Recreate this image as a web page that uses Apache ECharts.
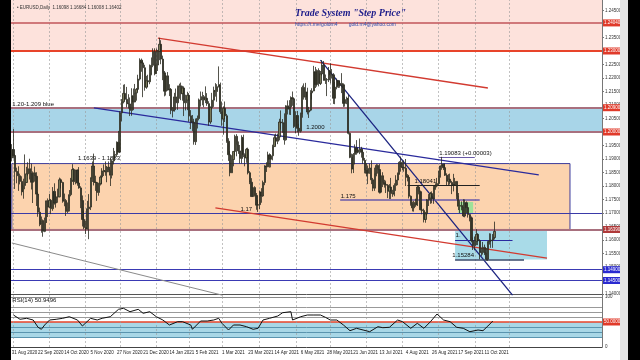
<!DOCTYPE html>
<html><head><meta charset="utf-8">
<script src="https://cdn.jsdelivr.net/npm/echarts@6/dist/echarts.min.js"></script>
<style>html,body{margin:0;padding:0;background:#fff}#c{width:640px;height:360px}</style>
</head><body><div id="c"></div>
<script>
// ---- x axis tick labels (every 16 daily bars) ----
const tickLabels = ["31 Aug 2020","22 Sep 2020","14 Oct 2020","5 Nov 2020","27 Nov 2020","21 Dec 2020","14 Jan 2021","5 Feb 2021","1 Mar 2021","23 Mar 2021","14 Apr 2021","6 May 2021","28 May 2021","21 Jun 2021","13 Jul 2021","4 Aug 2021","26 Aug 2021","17 Sep 2021","11 Oct 2021"];
// month-start bar indexes (dotted vertical grid)
const monthStarts = [1,23,45,66,88,108,128,151,173,194,216,238,260,282,303];
// ---- daily EURUSD bars [open, close, low, high] ----
const aug2020 = [[1.1904,1.1935,1.1891,1.1955]];
const sep2020 = [[1.1935,1.1913,1.1902,1.2011],[1.1913,1.1854,1.1789,1.1917],[1.1854,1.1851,1.1810,1.1868],[1.1851,1.1838,1.1782,1.1873],[1.1838,1.1817,1.1806,1.1846],[1.1817,1.1779,1.1765,1.1836],[1.1779,1.1802,1.1753,1.1827],[1.1802,1.1813,1.1788,1.1917],[1.1813,1.1845,1.1811,1.1871],[1.1845,1.1864,1.1838,1.1888],[1.1864,1.1846,1.1824,1.1901],[1.1846,1.1814,1.1787,1.1883],[1.1814,1.1849,1.1737,1.1854],[1.1849,1.1836,1.1816,1.1872],[1.1836,1.1770,1.1726,1.1851],[1.1770,1.1703,1.1686,1.1777],[1.1703,1.1658,1.1651,1.1720],[1.1658,1.1672,1.1627,1.1687],[1.1672,1.1632,1.1612,1.1676],[1.1632,1.1665,1.1629,1.1683],[1.1665,1.1745,1.1663,1.1746],[1.1745,1.1722,1.1685,1.1754]];
const oct2020 = [[1.1722,1.1747,1.1719,1.1771],[1.1747,1.1716,1.1696,1.1752],[1.1716,1.1780,1.1708,1.1796],[1.1780,1.1737,1.1731,1.1810],[1.1737,1.1760,1.1720,1.1770],[1.1760,1.1760,1.1738,1.1790],[1.1760,1.1823,1.1758,1.1831],[1.1823,1.1813,1.1791,1.1828],[1.1813,1.1744,1.1738,1.1816],[1.1744,1.1746,1.1725,1.1772],[1.1746,1.1706,1.1689,1.1752],[1.1706,1.1717,1.1700,1.1739],[1.1717,1.1768,1.1706,1.1785],[1.1768,1.1821,1.1762,1.1830],[1.1821,1.1861,1.1815,1.1881],[1.1861,1.1816,1.1804,1.1866],[1.1816,1.1859,1.1806,1.1860],[1.1859,1.1811,1.1801,1.1861],[1.1811,1.1793,1.1790,1.1870],[1.1793,1.1746,1.1718,1.1799],[1.1746,1.1676,1.1650,1.1765],[1.1676,1.1646,1.1640,1.1709]];
const nov2020 = [[1.1646,1.1641,1.1622,1.1671],[1.1641,1.1716,1.1639,1.1745],[1.1716,1.1722,1.1603,1.1770],[1.1722,1.1830,1.1711,1.1832],[1.1830,1.1874,1.1815,1.1891],[1.1874,1.1814,1.1802,1.1920],[1.1814,1.1813,1.1782,1.1838],[1.1813,1.1776,1.1745,1.1815],[1.1776,1.1809,1.1764,1.1812],[1.1809,1.1833,1.1802,1.1839],[1.1833,1.1856,1.1806,1.1866],[1.1856,1.1857,1.1837,1.1880],[1.1857,1.1852,1.1838,1.1891],[1.1852,1.1870,1.1814,1.1874],[1.1870,1.1858,1.1851,1.1891],[1.1858,1.1840,1.1800,1.1905],[1.1840,1.1893,1.1828,1.1898],[1.1893,1.1914,1.1880,1.1941],[1.1914,1.1917,1.1900,1.1930],[1.1917,1.1962,1.1908,1.1965],[1.1962,1.1926,1.1924,1.2004]];
const dec2020 = [[1.1926,1.2071,1.1922,1.2077],[1.2071,1.2112,1.2039,1.2122],[1.2112,1.2143,1.2106,1.2175],[1.2143,1.2121,1.2117,1.2177],[1.2121,1.2108,1.2091,1.2167],[1.2108,1.2104,1.2087,1.2140],[1.2104,1.2080,1.2059,1.2128],[1.2080,1.2134,1.2060,1.2162],[1.2134,1.2111,1.2081,1.2161],[1.2111,1.2145,1.2110,1.2178],[1.2145,1.2158,1.2116,1.2163],[1.2158,1.2196,1.2150,1.2212],[1.2196,1.2266,1.2191,1.2273],[1.2266,1.2256,1.2223,1.2272],[1.2256,1.2238,1.2129,1.2264],[1.2238,1.2166,1.2153,1.2249],[1.2166,1.2190,1.2160,1.2208],[1.2190,1.2186,1.2167,1.2212],[1.2186,1.2214,1.2177,1.2250],[1.2214,1.2247,1.2210,1.2276],[1.2247,1.2298,1.2240,1.2310],[1.2298,1.2216,1.2210,1.2310]];
const jan2021 = [[1.2216,1.2248,1.2215,1.2309],[1.2248,1.2298,1.2226,1.2304],[1.2298,1.2325,1.2266,1.2349],[1.2325,1.2270,1.2251,1.2340],[1.2270,1.2219,1.2192,1.2283],[1.2219,1.2151,1.2132,1.2226],[1.2151,1.2208,1.2135,1.2210],[1.2208,1.2156,1.2153,1.2222],[1.2156,1.2158,1.2133,1.2177],[1.2158,1.2080,1.2066,1.2163],[1.2080,1.2078,1.2054,1.2092],[1.2078,1.2130,1.2076,1.2145],[1.2130,1.2108,1.2081,1.2161],[1.2108,1.2165,1.2082,1.2172],[1.2165,1.2171,1.2123,1.2179],[1.2171,1.2142,1.2118,1.2183],[1.2142,1.2163,1.2116,1.2171],[1.2163,1.2108,1.2059,1.2169],[1.2108,1.2118,1.2080,1.2138],[1.2118,1.2136,1.2081,1.2149]];
const feb2021 = [[1.2136,1.2060,1.2038,1.2144],[1.2060,1.2038,1.2011,1.2081],[1.2038,1.2036,1.2003,1.2063],[1.2036,1.1964,1.1953,1.2049],[1.1964,1.2046,1.1952,1.2050],[1.2046,1.2050,1.2013,1.2061],[1.2050,1.2119,1.2043,1.2124],[1.2119,1.2120,1.2094,1.2150],[1.2120,1.2131,1.2099,1.2149],[1.2131,1.2119,1.2092,1.2137],[1.2119,1.2125,1.2107,1.2169],[1.2125,1.2105,1.2097,1.2144],[1.2105,1.2037,1.2023,1.2114],[1.2037,1.2090,1.2030,1.2095],[1.2090,1.2118,1.2083,1.2145],[1.2118,1.2154,1.2093,1.2168],[1.2154,1.2150,1.2131,1.2181],[1.2150,1.2168,1.2112,1.2177],[1.2168,1.2175,1.2165,1.2243],[1.2175,1.2075,1.2067,1.2183]];
const mar2021 = [[1.2075,1.2048,1.2023,1.2113],[1.2048,1.2088,1.1990,1.2095],[1.2088,1.2060,1.2037,1.2113],[1.2060,1.1966,1.1960,1.2067],[1.1966,1.1916,1.1893,1.1977],[1.1916,1.1849,1.1836,1.1929],[1.1849,1.1898,1.1848,1.1914],[1.1898,1.1928,1.1873,1.1929],[1.1928,1.1984,1.1913,1.1990],[1.1984,1.1953,1.1910,1.1992],[1.1953,1.1930,1.1919,1.1965],[1.1930,1.1902,1.1884,1.1952],[1.1902,1.1980,1.1883,1.1988],[1.1980,1.1916,1.1907,1.1990],[1.1916,1.1904,1.1873,1.1921],[1.1904,1.1936,1.1886,1.1941],[1.1936,1.1849,1.1843,1.1942],[1.1849,1.1814,1.1807,1.1855],[1.1814,1.1761,1.1761,1.1829],[1.1761,1.1794,1.1762,1.1796],[1.1794,1.1765,1.1761,1.1799],[1.1765,1.1729,1.1712,1.1774],[1.1729,1.1731,1.1704,1.1748]];
const apr2021 = [[1.1731,1.1778,1.1714,1.1783],[1.1778,1.1763,1.1738,1.1792],[1.1763,1.1813,1.1760,1.1820],[1.1813,1.1874,1.1803,1.1877],[1.1874,1.1871,1.1852,1.1888],[1.1871,1.1915,1.1870,1.1927],[1.1915,1.1899,1.1868,1.1921],[1.1899,1.1912,1.1869,1.1918],[1.1912,1.1946,1.1895,1.1953],[1.1946,1.1979,1.1945,1.1990],[1.1979,1.1966,1.1951,1.1994],[1.1966,1.1982,1.1955,1.1994],[1.1982,1.2037,1.1969,1.2049],[1.2037,1.2034,1.2009,1.2080],[1.2034,1.2033,1.1997,1.2048],[1.2033,1.1971,1.1953,1.2069],[1.1971,1.2097,1.1968,1.2099],[1.2097,1.2085,1.2065,1.2117],[1.2085,1.2093,1.2064,1.2118],[1.2093,1.2127,1.2063,1.2132],[1.2127,1.2123,1.2097,1.2150],[1.2123,1.2020,1.2015,1.2125]];
const may2021 = [[1.2020,1.2061,1.1995,1.2077],[1.2061,1.2014,1.1999,1.2078],[1.2014,1.2003,1.1986,1.2030],[1.2003,1.2066,1.1998,1.2072],[1.2066,1.2165,1.2053,1.2172],[1.2165,1.2129,1.2120,1.2180],[1.2129,1.2148,1.2119,1.2182],[1.2148,1.2074,1.2065,1.2164],[1.2074,1.2081,1.2052,1.2093],[1.2081,1.2145,1.2077,1.2155],[1.2145,1.2152,1.2120,1.2162],[1.2152,1.2223,1.2151,1.2245],[1.2223,1.2176,1.2163,1.2241],[1.2176,1.2228,1.2168,1.2232],[1.2228,1.2180,1.2169,1.2236],[1.2180,1.2215,1.2174,1.2226],[1.2215,1.2248,1.2209,1.2266],[1.2248,1.2192,1.2190,1.2263],[1.2192,1.2194,1.2178,1.2213],[1.2194,1.2193,1.2133,1.2200],[1.2193,1.2227,1.2185,1.2241]];
const jun2021 = [[1.2227,1.2212,1.2180,1.2254],[1.2212,1.2212,1.2198,1.2233],[1.2212,1.2125,1.2104,1.2218],[1.2125,1.2166,1.2103,1.2185],[1.2166,1.2190,1.2158,1.2198],[1.2190,1.2172,1.2163,1.2192],[1.2172,1.2180,1.2164,1.2190],[1.2180,1.2175,1.2144,1.2218],[1.2175,1.2106,1.2093,1.2180],[1.2106,1.2120,1.2094,1.2128],[1.2120,1.2125,1.2103,1.2131],[1.2125,1.1995,1.1991,1.2138],[1.1995,1.1906,1.1903,1.1998],[1.1906,1.1863,1.1847,1.1920],[1.1863,1.1917,1.1848,1.1922],[1.1917,1.1941,1.1880,1.1954],[1.1941,1.1925,1.1916,1.1970],[1.1925,1.1934,1.1921,1.1941],[1.1934,1.1936,1.1918,1.1976],[1.1936,1.1925,1.1905,1.1945],[1.1925,1.1895,1.1882,1.1935],[1.1895,1.1858,1.1847,1.1904]];
const jul2021 = [[1.1858,1.1847,1.1836,1.1885],[1.1847,1.1865,1.1807,1.1876],[1.1865,1.1866,1.1845,1.1883],[1.1866,1.1823,1.1807,1.1895],[1.1823,1.1792,1.1781,1.1830],[1.1792,1.1844,1.1782,1.1868],[1.1844,1.1876,1.1836,1.1881],[1.1876,1.1861,1.1846,1.1880],[1.1861,1.1777,1.1772,1.1881],[1.1777,1.1838,1.1773,1.1849],[1.1838,1.1812,1.1796,1.1851],[1.1812,1.1806,1.1794,1.1823],[1.1806,1.1803,1.1774,1.1820],[1.1803,1.1781,1.1755,1.1807],[1.1781,1.1796,1.1752,1.1807],[1.1796,1.1772,1.1752,1.1830],[1.1772,1.1770,1.1760,1.1786],[1.1770,1.1802,1.1762,1.1810],[1.1802,1.1822,1.1782,1.1840],[1.1822,1.1844,1.1803,1.1850],[1.1844,1.1888,1.1842,1.1892],[1.1888,1.1869,1.1853,1.1909]];
const aug2021 = [[1.1869,1.1869,1.1858,1.1892],[1.1869,1.1866,1.1853,1.1895],[1.1866,1.1835,1.1800,1.1900],[1.1835,1.1832,1.1817,1.1844],[1.1832,1.1762,1.1754,1.1841],[1.1762,1.1735,1.1727,1.1765],[1.1735,1.1719,1.1706,1.1742],[1.1719,1.1739,1.1705,1.1745],[1.1739,1.1730,1.1723,1.1753],[1.1730,1.1796,1.1726,1.1800],[1.1796,1.1779,1.1769,1.1804],[1.1779,1.1712,1.1710,1.1783],[1.1712,1.1709,1.1695,1.1738],[1.1709,1.1676,1.1665,1.1716],[1.1676,1.1697,1.1664,1.1704],[1.1697,1.1749,1.1691,1.1752],[1.1749,1.1755,1.1726,1.1770],[1.1755,1.1772,1.1734,1.1778],[1.1772,1.1752,1.1736,1.1780],[1.1752,1.1793,1.1734,1.1803],[1.1793,1.1800,1.1786,1.1810],[1.1800,1.1809,1.1795,1.1830]];
const sep2021 = [[1.1809,1.1838,1.1802,1.1857],[1.1838,1.1874,1.1831,1.1876],[1.1874,1.1880,1.1860,1.1908],[1.1880,1.1868,1.1859,1.1883],[1.1868,1.1840,1.1837,1.1884],[1.1840,1.1818,1.1802,1.1847],[1.1818,1.1825,1.1803,1.1844],[1.1825,1.1813,1.1805,1.1846],[1.1813,1.1805,1.1770,1.1819],[1.1805,1.1804,1.1780,1.1845],[1.1804,1.1817,1.1800,1.1830],[1.1817,1.1764,1.1751,1.1818],[1.1764,1.1725,1.1711,1.1774],[1.1725,1.1728,1.1700,1.1747],[1.1728,1.1723,1.1710,1.1743],[1.1723,1.1689,1.1685,1.1751],[1.1689,1.1738,1.1684,1.1750],[1.1738,1.1720,1.1700,1.1743],[1.1720,1.1694,1.1683,1.1722],[1.1694,1.1682,1.1669,1.1696],[1.1682,1.1597,1.1591,1.1687],[1.1597,1.1579,1.1563,1.1609]];
const oct2021 = [[1.1579,1.1595,1.1562,1.1613],[1.1595,1.1621,1.1581,1.1640],[1.1621,1.1597,1.1581,1.1625],[1.1597,1.1555,1.1529,1.1603],[1.1555,1.1554,1.1541,1.1572],[1.1554,1.1573,1.1546,1.1593],[1.1573,1.1552,1.1544,1.1583],[1.1552,1.1529,1.1524,1.1570],[1.1529,1.1594,1.1523,1.1595],[1.1594,1.1597,1.1583,1.1625],[1.1597,1.1600,1.1571,1.1624],[1.1600,1.1609,1.1571,1.1622],[1.1609,1.1632,1.1602,1.1668]];
// ---- RSI(14) ----
const rsiIdx = [1,5,9,13,16,18,20,23,27,31,35,40,43,48,52,55,60,65,68,72,77,80,84,88,92,96,101,104,109,110,115,119,123,126,128,132,135,139,143,147,150,153,157,162,165,170,171,176,180,184,188,191,194,198,202,206,210,214,218,223,226,230,235,238,243,247,251,255,259,263,267,271,275,279,284,287,290,293];
const rsiVal = [64,55.4,57.4,54,39.4,35.4,44,54,55.4,57.4,60.6,54,42,57.4,54,57.4,60.6,75.4,77.4,70.6,75.4,67.4,70.6,60.6,54,44,50.6,50.6,44,35.4,52,52,54,57.4,47.4,34,44,44,40.6,35.4,37.4,54,57.4,62,68.6,70.6,54,60.6,64,64,64,59.4,54,54,44,32.6,37.4,34,30.6,40.6,38.6,39.4,54,50.6,37.4,47.4,37.4,50.6,66,54,50.6,39.4,37.4,30.6,34,32.6,42,52];
const rsiLevels = [80,70,60,50,40,30,20];
// ---- price axis ----
const priceTicks = [1.140,1.145,1.150,1.155,1.160,1.165,1.170,1.175,1.180,1.185,1.190,1.195,1.200,1.205,1.210,1.215,1.220,1.225,1.230,1.235,1.240,1.245];
const priceMin = 1.13889, priceMax = 1.24889;
// ---- zones / levels ----
const pinkZone = [1.2300, priceMax];
const blueZone = [1.2000, 1.2090];
const orangeZone = [1.1639, 1.1883, 340];       // low, high, end bar
const cyanBox = [270, 326, 1.1528, 1.1637];      // bar from, bar to, low, high
const greenBox = [272, 281, 1.1696, 1.1741];
const redLevels = [1.2404, 1.2300, 1.2090, 1.2000, 1.1639];
const blueLevels = [1.1700, 1.1490, 1.1450];
const grayLevel = 1.1400;
// trend lines [[bar, price],[bar, price]]
const trendRed = [[89,1.2348],[290,1.2163]];
const trendBlue = [[50,1.2089],[321,1.1841]];
const trendNavy = [[188,1.2266],[305,1.1396]];
const trendRedLow = [[124,1.1719],[326,1.1533]];
const trendGray = [[0,1.1589],[128,1.1396]];
const trendGrayTop = [[334,1.2489],[359,1.2459]];
// short level segments [barFrom, barTo, price]
const seg1175 = [200,285,1.1750];
const seg18041 = [241,285,1.18041];
const seg19083 = [260,282,1.19083];
const seg1160 = [270,305,1.1600];
const seg15284 = [270,312,1.15284];

const bars = [].concat(aug2020,sep2020,oct2020,nov2020,dec2020,jan2021,feb2021,mar2021,apr2021,may2021,jun2021,jul2021,aug2021,sep2021,oct2021);
const N = 360;
const slots = Array.from({length:N},(_,i)=>String(i));
const FONT = 'Liberation Sans';

function hl(v, color, width, box){
  return {yAxis:v, lineStyle:{color, width, type:'solid'},
    label: box ? {show:true, position:'end', distance:1, formatter: v.toFixed(5), backgroundColor: box, color:'#fff', fontSize:4.5, fontFamily:FONT, padding:[1,1]} : {show:false}};
}
function tl(pts, color, width){
  return [{coord:pts[0], lineStyle:{color, width, type:'solid'}}, {coord:pts[1]}];
}
function sg(s, color, width){
  return [{coord:[s[0],s[2]], lineStyle:{color, width, type:'solid'}}, {coord:[s[1],s[2]]}];
}
function txt(name, bar, price, color){
  return {name, coord:[bar, price], symbol:'circle', symbolSize:1, itemStyle:{color:'rgba(0,0,0,0)'},
    label:{show:true, position:'right', distance:0, formatter:'{b}', color: color||'#111', fontSize:6, fontFamily:FONT}};
}

const chart = echarts.init(document.getElementById('c'));
chart.setOption({
  animation:false,
  backgroundColor:'#fff',
  title:[
    {text:'Trade System "Step Price"', left:290, top:3, textStyle:{fontFamily:'Liberation Serif', fontStyle:'italic', fontWeight:'bold', fontSize:10, color:'#1c1c8a'}},
    {text:'https://t.me/goldm4        gold.m4@yahoo.com', left:290, top:17, textStyle:{fontFamily:FONT, fontWeight:'normal', fontSize:5, color:'#2f4fb0'}},
    {text:'\u2022 EURUSD,Daily  1.16098 1.16684 1.16008 1.16402', left:12, top:0, textStyle:{fontFamily:FONT, fontWeight:'normal', fontSize:4.5, color:'#333'}}
  ],
  graphic:[
    {type:'rect', left:0, top:0, shape:{width:11, height:360}, style:{fill:'#000'}, z:100},
    {type:'rect', left:620, top:0, shape:{width:8, height:360}, style:{fill:'#e4e4e4'}, z:100},
    {type:'rect', left:628, top:0, shape:{width:12, height:360}, style:{fill:'#000'}, z:100}
  ],
  grid:[
    {left:11, right:38, top:0, height:297},
    {left:11, right:38, top:297, height:50}
  ],
  xAxis:[
    {type:'category', gridIndex:0, data:slots, boundaryGap:true, axisLine:{show:false}, axisTick:{show:false}, axisLabel:{show:false}, splitLine:{show:false}},
    {type:'category', gridIndex:1, data:slots, boundaryGap:true, axisLine:{show:true, lineStyle:{color:'#444'}}, axisTick:{show:false},
      axisLabel:{show:true, interval:15, showMinLabel:true, hideOverlap:false, align:'left', margin:3, fontSize:4.5, fontFamily:FONT, color:'#222',
        formatter:(v,i)=> (i%16===0 && tickLabels[i/16]) ? tickLabels[i/16] : ''}, splitLine:{show:false}}
  ],
  yAxis:[
    {type:'value', gridIndex:0, position:'right', min:priceMin, max:priceMax,
      axisLine:{show:true, lineStyle:{color:'#777'}}, axisTick:{show:true, length:2, customValues:priceTicks, lineStyle:{color:'#777'}},
      axisLabel:{show:true, customValues:priceTicks, formatter:v=>v.toFixed(5), fontSize:4.5, fontFamily:FONT, color:'#333', margin:3},
      splitLine:{show:false}},
    {type:'value', gridIndex:1, position:'right', min:0, max:100,
      axisLine:{show:true, lineStyle:{color:'#777'}}, axisTick:{show:false},
      axisLabel:{show:true, customValues:[0,100], fontSize:4.5, fontFamily:FONT, color:'#333', margin:3},
      splitLine:{show:false}}
  ],
  series:[
    { // zones
      type:'line', xAxisIndex:0, yAxisIndex:0, data:[], z:1, silent:true,
      markArea:{silent:true, data:[
        [{yAxis:pinkZone[0], itemStyle:{color:'#fde2dc'}}, {yAxis:pinkZone[1]}],
        [{yAxis:blueZone[0], itemStyle:{color:'#a8d5e8'}}, {yAxis:blueZone[1]}],
        [{coord:[0,orangeZone[0]], itemStyle:{color:'#fcd3ae', borderColor:'#3c3c9c', borderWidth:1}}, {coord:[orangeZone[2],orangeZone[1]]}],
        [{coord:[cyanBox[0],cyanBox[2]], itemStyle:{color:'#a9dbe8'}}, {coord:[cyanBox[1],cyanBox[3]]}],
        [{coord:[greenBox[0],greenBox[2]], itemStyle:{color:'#9fe29a'}}, {coord:[greenBox[1],greenBox[3]]}]
      ]}
    },
    { // month grid
      type:'line', xAxisIndex:0, yAxisIndex:0, data:[], z:2, silent:true,
      markLine:{silent:true, precision:6, symbol:['none','none'], label:{show:false},
        lineStyle:{color:'#999', width:0.6, type:[2,2]},
        data: monthStarts.map(m=>({xAxis:m}))}
    },
    { // horizontal levels
      type:'line', xAxisIndex:0, yAxisIndex:0, data:[], z:3, silent:true,
      markLine:{silent:true, precision:6, symbol:['none','none'], data:[
        hl(redLevels[0], '#c0545a', 1.5, '#e03a2a'),
        hl(redLevels[1], '#e8442a', 2, '#e03a2a'),
        hl(redLevels[2], '#a8707e', 2, '#e03a2a'),
        hl(redLevels[3], '#a8707e', 2, '#e03a2a'),
        hl(redLevels[4], '#a8707e', 2, '#b03a3a'),
        hl(blueLevels[0], '#3a3aa8', 1.2, null),
        hl(blueLevels[1], '#3a3ab4', 1.2, '#2a2ad0'),
        hl(blueLevels[2], '#3a3ab4', 1.2, '#2a2ad0'),
        hl(grayLevel, '#555', 1, null)
      ]}
    },
    {
      type:'candlestick', xAxisIndex:0, yAxisIndex:0, data:bars, z:5, barWidth:1.7,
      itemStyle:{color:'#7a7a5a', color0:'#35352a', borderColor:'#2a2a20', borderColor0:'#2a2a20', borderWidth:0.8}
    },
    { // trend lines & segments
      type:'line', xAxisIndex:0, yAxisIndex:0, data:[], z:6, silent:true,
      markLine:{silent:true, precision:6, symbol:['none','none'], label:{show:false}, data:[
        tl(trendRed,'#d23a30',1.3),
        tl(trendBlue,'#2a2a9c',1.3),
        tl(trendNavy,'#1b2380',1.3),
        tl(trendRedLow,'#d23a30',1.3),
        tl(trendGray,'#8a8a8a',1),
        tl(trendGrayTop,'#8a8a8a',1),
        sg(seg1175,'#6a5aa8',1.5),
        sg(seg18041,'#222',1.2),
        sg(seg19083,'#6a5aa8',1.2),
        sg(seg1160,'#2a2aa0',1.2),
        sg(seg15284,'#3a4a6a',1.5)
      ]},
      markPoint:{silent:true, data:[
        txt('1.20-1.209 blue', 0, 1.2104),
        txt('1.2000', 179, 1.2019),
        txt('1.1639 - 1.1883', 40, 1.1904),
        txt('1.17', 139, 1.1715),
        txt('1.175', 200, 1.1763),
        txt('1.18041', 245, 1.1819),
        txt('1.19083 (+0.00003)', 260, 1.1922),
        txt('1.15284', 268, 1.1545),
        txt('1.', 270, 1.1616)
      ]}
    },
    { // RSI zones & levels
      type:'line', xAxisIndex:1, yAxisIndex:1, data:[], z:1, silent:true,
      markArea:{silent:true, data:[[{yAxis:20, itemStyle:{color:'#a8d7e6'}},{yAxis:50}]]},
      markLine:{silent:true, precision:6, symbol:['none','none'], data:[
        {yAxis:rsiLevels[0], lineStyle:{color:'#999', width:1, type:'solid'}, label:{show:false}},
        {yAxis:rsiLevels[1], lineStyle:{color:'#999', width:1, type:'solid'}, label:{show:false}},
        {yAxis:rsiLevels[2], lineStyle:{color:'#999', width:1, type:'solid'}, label:{show:false}},
        {yAxis:rsiLevels[3], lineStyle:{color:'#e8442a', width:1.5, type:'solid'}, label:{show:true, position:'end', distance:1, formatter:'50.0000', backgroundColor:'#e03a2a', color:'#fff', fontSize:4.5, padding:[1,1], fontFamily:FONT}},
        {yAxis:rsiLevels[4], lineStyle:{color:'#5a94ae', width:1, type:'solid'}, label:{show:false}},
        {yAxis:rsiLevels[5], lineStyle:{color:'#5a94ae', width:1, type:'solid'}, label:{show:false}},
        {yAxis:rsiLevels[6], lineStyle:{color:'#5a94ae', width:1, type:'solid'}, label:{show:false}},
        {yAxis:100, lineStyle:{color:'#888', width:1, type:'solid'}, label:{show:false}},
        ...monthStarts.map(m=>({xAxis:m, lineStyle:{color:'#999', width:0.6, type:[2,2]}, label:{show:false}}))
      ]}
    },
    {
      type:'line', xAxisIndex:1, yAxisIndex:1, z:5, symbol:'none',
      data: rsiIdx.map((x,k)=>[x, rsiVal[k]]),
      lineStyle:{color:'#111', width:1}
    },
    {
      type:'line', xAxisIndex:1, yAxisIndex:1, data:[], z:6, silent:true,
      markPoint:{silent:true, data:[txt('RSI(14) 50.9496', 0, 93)]}
    }
  ]
});
</script></body></html>
